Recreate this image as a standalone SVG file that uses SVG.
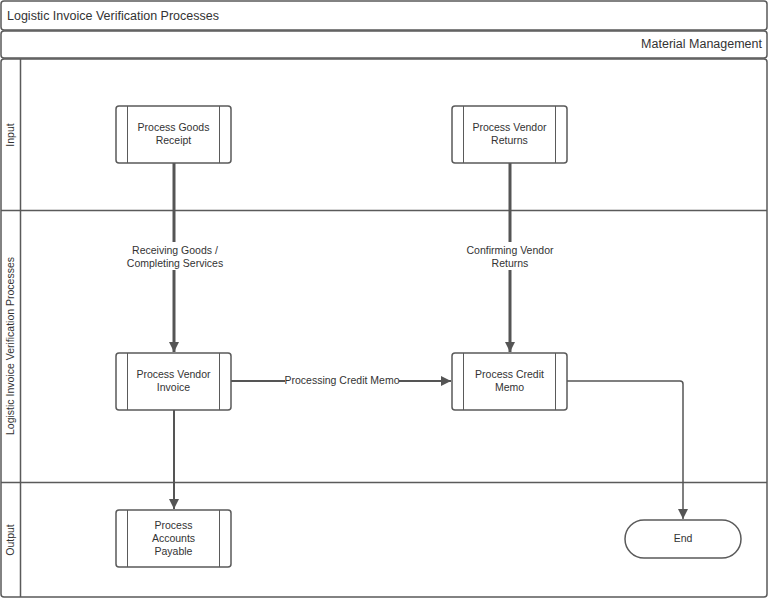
<svg xmlns="http://www.w3.org/2000/svg" width="768" height="599" viewBox="0 0 768 599">
<style>
.frame{fill:#fff;stroke:#5a5a5a;stroke-width:1.5}
.lane{fill:none;stroke:#5a5a5a;stroke-width:1.5}
.box{fill:#fff;stroke:#5a5a5a;stroke-width:1.5}
.inner{stroke:#5a5a5a;stroke-width:1}
.t{font-family:"Liberation Sans",Arial,sans-serif;font-size:10.5px;fill:#333;text-anchor:middle}
.h{font-family:"Liberation Sans",Arial,sans-serif;font-size:12.5px;fill:#333}
.c{fill:none;stroke:#555}
.lbl{font-family:"Liberation Sans",Arial,sans-serif;font-size:10.5px;fill:#333;text-anchor:middle}
</style>
<defs>
<marker id="arr" viewBox="0 0 10 10" refX="10" refY="5" markerWidth="10" markerHeight="10" markerUnits="userSpaceOnUse" orient="auto">
<path d="M0,0 L10,5 L0,10 z" fill="#555"/>
</marker>
</defs>
<rect width="768" height="599" fill="#fff"/>
<g id="pool">
<rect class="frame" x="1" y="1" width="766" height="29" rx="3"/>
<text class="h" x="7" y="19.5">Logistic Invoice Verification Processes</text>
<rect class="frame" x="1" y="31" width="766" height="27" rx="3"/>
<text class="h" x="762" y="48" text-anchor="end">Material Management</text>
<rect class="frame" x="1" y="59" width="766" height="538" rx="3"/>
<line class="lane" x1="20.5" y1="59" x2="20.5" y2="597"/>
<line class="lane" x1="1" y1="210.5" x2="767" y2="210.5"/>
<line class="lane" x1="1" y1="482.5" x2="767" y2="482.5"/>
<text class="t" transform="translate(14,135) rotate(-90)">Input</text>
<text class="t" transform="translate(14,346) rotate(-90)">Logistic Invoice Verification Processes</text>
<text class="t" transform="translate(14,540) rotate(-90)">Output</text>
</g>
<g id="connectors">
<line class="c" x1="174" y1="163" x2="174" y2="352" stroke-width="3" marker-end="url(#arr)"/>
<rect x="126" y="242" width="96" height="28" fill="#fff"/>
<text class="lbl" x="175" y="254">Receiving Goods /</text>
<text class="lbl" x="175" y="267">Completing Services</text>
<line class="c" x1="510" y1="163" x2="510" y2="352" stroke-width="3" marker-end="url(#arr)"/>
<rect x="465" y="242" width="90" height="28" fill="#fff"/>
<text class="lbl" x="510" y="254">Confirming Vendor</text>
<text class="lbl" x="510" y="267">Returns</text>
<line class="c" x1="231" y1="381" x2="451" y2="381" stroke-width="2" marker-end="url(#arr)"/>
<rect x="285" y="374" width="114" height="13" fill="#fff"/>
<text class="lbl" x="342" y="384">Processing Credit Memo</text>
<line class="c" x1="174" y1="410" x2="174" y2="509" stroke-width="2" marker-end="url(#arr)"/>
<path class="c" d="M567,381 H680 Q683,381 683,384 V519" stroke-width="1.5" marker-end="url(#arr)"/>
</g>
<g id="n1">
<rect class="box" x="116" y="106" width="115" height="57" rx="3"/>
<line class="inner" x1="127.5" y1="106" x2="127.5" y2="163"/>
<line class="inner" x1="219.5" y1="106" x2="219.5" y2="163"/>
<text class="t" x="173.5" y="131">Process Goods</text>
<text class="t" x="173.5" y="144">Receipt</text>
</g>
<g id="n2">
<rect class="box" x="452" y="106" width="115" height="57" rx="3"/>
<line class="inner" x1="463.5" y1="106" x2="463.5" y2="163"/>
<line class="inner" x1="555.5" y1="106" x2="555.5" y2="163"/>
<text class="t" x="509.5" y="131">Process Vendor</text>
<text class="t" x="509.5" y="144">Returns</text>
</g>
<g id="n3">
<rect class="box" x="116" y="353" width="115" height="57" rx="3"/>
<line class="inner" x1="127.5" y1="353" x2="127.5" y2="410"/>
<line class="inner" x1="219.5" y1="353" x2="219.5" y2="410"/>
<text class="t" x="173.5" y="378">Process Vendor</text>
<text class="t" x="173.5" y="391">Invoice</text>
</g>
<g id="n4">
<rect class="box" x="452" y="353" width="115" height="57" rx="3"/>
<line class="inner" x1="463.5" y1="353" x2="463.5" y2="410"/>
<line class="inner" x1="555.5" y1="353" x2="555.5" y2="410"/>
<text class="t" x="509.5" y="378">Process Credit</text>
<text class="t" x="509.5" y="391">Memo</text>
</g>
<g id="n5">
<rect class="box" x="116" y="510" width="115" height="57" rx="3"/>
<line class="inner" x1="127.5" y1="510" x2="127.5" y2="567"/>
<line class="inner" x1="219.5" y1="510" x2="219.5" y2="567"/>
<text class="t" x="173.5" y="529">Process</text>
<text class="t" x="173.5" y="542">Accounts</text>
<text class="t" x="173.5" y="555">Payable</text>
</g>
<g id="n6">
<rect class="box" x="625" y="520" width="116" height="38" rx="19"/>
<text class="t" x="683" y="542">End</text>
</g>
</svg>
